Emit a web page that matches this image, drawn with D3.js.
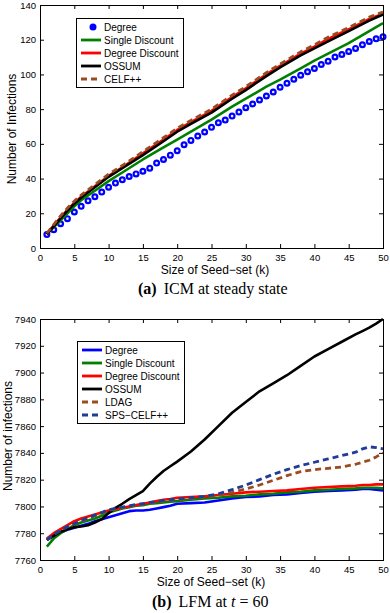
<!DOCTYPE html>
<html lang="en">
  <head>
    <meta charset="utf-8">
    <style>
    body { margin: 0; background: #fff; }
    svg text { font-family: "Liberation Sans", Arial, sans-serif; fill: #000; }
    svg text.cap { font-family: "Liberation Serif", "Times New Roman", serif; }
    </style>
  </head>
  <body>
  <div id="my_dataviz"></div>

  <script src="https://d3js.org/d3.v7.min.js"></script>
  <script>

// ---------- data: (a) ICM at steady state ----------
var icmDotK = [1,2,3,4,5,6,7,8,9,10,11,12,13,14,15,16,17,18,19,20,21,22,23,24,25,
               26,27,28,29,30,31,32,33,34,35,36,37,38,39,40,41,42,43,44,45,46,47,48,49,50]
var icmDegree = [7.8,10.5,14,16.9,20.7,24,27.2,29.5,32.2,35,37.4,39.3,41.2,42.7,44.2,46,48.9,51,53.5,56,
                 59.5,62,64.5,66.8,69.5,72.2,73.7,76,78.3,80.8,83,85.3,87.6,89.9,92.6,94.9,97.2,99.5,101.5,103.4,
                 105.7,107.6,110,111.5,113.2,115,117.1,119,120.5,121.7]

var icmK              = [1,2,3,4,5,6,8,10,12,15,18,20,22,25,28,30,33,35,38,40,42,45,48,50]
var icmSingleDiscount = [8,12,16,20,24,27.5,33,38.5,43.5,51,58,62.5,67,74,81.5,86,93,97,103.5,108,112,118,125,129.5]
var icmDegreeDiscount = [8,13,17.5,22,26,29.5,35.5,41.5,46.5,54.5,62.5,68,72.5,79,87,92,100,105,112,116,120.5,126,132,135]
var icmOssum          = [8,12.5,17,21.5,25.5,29,35,41,46,53.5,61.5,67,71.5,78,86,91,99,104,111,115,119,125,131,134.5]
var icmCelf           = [8.5,13.5,18.5,23,27,30.5,36.5,42.5,47.5,55.5,63.5,69,73.5,80,88,93,101,106,113,117,121.5,127,133,136]

// ---------- data: (b) LFM at t = 60 ----------
var lfmK = [1,2,3,4,5,6,7,8,9,10,11,12,13,14,15,16,17,18,19,20,22,24,26,28,30,32,34,36,38,40,42,44,46,47,48,49,50]
var lfmDegree = [7775,7778,7780.5,7782.5,7784,7785.5,7787,7789,7790.5,7792,7793.5,7795,7796.5,7797,7797,7797.5,7798.5,7799.5,7800.5,7802,
                 7802.5,7803,7804.5,7806,7807,7807.5,7808.5,7809,7810,7811,7811.5,7812,7812.5,7813,7813,7812.5,7812]
var lfmSingleDiscount = [7770,7776,7780,7783,7786,7788,7789.5,7791,7793,7795.5,7797,7798.5,7799.5,7800.5,7801,7802,7802.5,7803,7803.5,7804,
                 7805,7806,7806.5,7807.5,7808,7809,7809.5,7810.5,7811,7812,7812.5,7813,7813.5,7814,7814,7814,7813.5]
var lfmDegreeDiscount = [7776,7780,7783,7786,7789,7791,7792.5,7794,7795.5,7797,7798,7799,7800,7801,7802,7803,7804,7805,7805.5,7806.5,
                 7807,7807.5,7808.5,7809.5,7810.5,7811,7811.5,7812,7813,7814,7814.5,7815,7815.5,7816,7816,7816.5,7816.5]
var lfmOssum = [7775,7778,7781,7783,7784.5,7785,7786,7788,7790.5,7795,7799,7802,7805.5,7808.5,7811.5,7817,7822,7826.5,7830,7833.5,
                 7841,7850,7860,7870,7878,7886,7892,7898,7905,7912,7917.5,7923,7928.5,7931,7933.5,7936.5,7940]
var lfmLdag = [7775,7779,7782,7785,7787,7789,7791,7793,7795,7797,7798,7799,7800,7801,7801.5,7802.5,7803,7804,7804.5,7805,
                 7806,7807,7808.5,7810.5,7813,7816,7819.5,7823,7826,7827.5,7828.5,7829.5,7831.5,7833,7834.5,7837,7840]
var lfmSpsCelf = [7775,7779,7782,7785,7787,7789.5,7791.5,7793.5,7795.5,7797.5,7798.5,7799.5,7800.5,7801.5,7802,7803,7803.5,7804.5,7805,7805.5,
                 7806.5,7807.5,7809.5,7812.5,7816,7820,7824,7827.5,7830.5,7833,7835.5,7838,7840.5,7843,7844.5,7844,7843]

var xTicks = [0,5,10,15,20,25,30,35,40,45,50]
var icmYTicks = [0,20,40,60,80,100,120,140]
var lfmYTicks = [7760,7780,7800,7820,7840,7860,7880,7900,7920,7940]

var BLUE = "#0000ff", GREEN = "#008000", RED = "#ff0000", BLACK = "#000000",
    BROWN = "#9c4a1f", NAVY = "#203c96"

var svg = d3.select("#my_dataviz")
  .append("svg")
    .attr("width", 390)
    .attr("height", 613)

// draws one panel: box, ticks on all sides, labels, lines and legend
function drawPanel(p) {
  var x = d3.scaleLinear().domain([0, 50]).range([40, 383])
  var y = d3.scaleLinear().domain([p.yTicks[0], p.yTicks[p.yTicks.length - 1]]).range([p.bottom, p.top])
  var g = svg.append("g")

  g.append("g")
    .attr("transform", "translate(0," + p.bottom + ")")
    .call(d3.axisBottom(x).tickValues(xTicks).tickSize(-4).tickPadding(6).tickFormat(d3.format("d")))
  g.append("g")
    .attr("transform", "translate(0," + p.top + ")")
    .call(d3.axisTop(x).tickValues(xTicks).tickSize(-4).tickFormat(""))
  g.append("g")
    .attr("transform", "translate(40,0)")
    .call(d3.axisLeft(y).tickValues(p.yTicks).tickSize(-4).tickPadding(4).tickFormat(d3.format("d")))
  g.append("g")
    .attr("transform", "translate(383,0)")
    .call(d3.axisRight(y).tickValues(p.yTicks).tickSize(-4).tickFormat(""))
  g.selectAll(".domain").remove()
  g.selectAll(".tick line").attr("stroke", "#000")
  g.selectAll(".tick text").attr("font-size", "9.5px").attr("font-family", null)

  // the lines
  var line = d3.line()
    .x(function(d) { return x(d[0]) })
    .y(function(d) { return y(d[1]) })

  p.series.forEach(function(s) {
    if (s.dots) {
      g.selectAll(null)
        .data(d3.zip(s.k, s.v))
        .enter()
        .append("circle")
          .attr("cx", function(d) { return x(d[0]) })
          .attr("cy", function(d) { return y(d[1]) })
          .attr("r", 2.4)
          .attr("fill", "#e6eaff")
          .attr("stroke", s.color)
          .attr("stroke-width", 2.2)
    } else {
      g.append("path")
        .datum(d3.zip(s.k, s.v))
        .attr("d", line)
        .attr("fill", "none")
        .attr("stroke", s.color)
        .attr("stroke-width", s.dash ? 2.8 : 2.6)
        .attr("stroke-dasharray", s.dash ? "6,4" : null)
        .attr("stroke-linejoin", "round")
    }
  })

  // box
  g.append("rect")
    .attr("x", 40.5).attr("y", p.top + 0.5)
    .attr("width", 343).attr("height", p.bottom - p.top)
    .attr("fill", "none").attr("stroke", "#000")

  // axis labels
  g.append("text")
    .attr("x", p.xLabelX).attr("y", p.bottom + 26)
    .attr("text-anchor", "middle").attr("font-size", "12px")
    .text("Size of Seed\u2212set (k)")
  g.append("text")
    .attr("transform", "translate(" + p.yLabelX + "," + p.yLabelY + ") rotate(-90)")
    .attr("text-anchor", "middle").attr("font-size", "12px").attr("dy", "0.35em")
    .text(p.yLabel)

  // legend
  var lg = g.append("g")
  lg.append("rect")
    .attr("x", p.legend.x + 0.5).attr("y", p.legend.y + 0.5)
    .attr("width", 107).attr("height", p.series.length * 13 + 4)
    .attr("fill", "#fff").attr("stroke", "#000")
  p.series.forEach(function(s, i) {
    var cy = p.legend.y + 9 + i * 13
    var x0 = p.legend.x + 5, x1 = p.legend.x + 25
    if (s.dots) {
      lg.append("circle").attr("cx", (x0 + x1) / 2 + 2).attr("cy", cy).attr("r", 3.5).attr("fill", s.color)
    } else {
      lg.append("line")
        .attr("x1", x0).attr("x2", x1).attr("y1", cy).attr("y2", cy)
        .attr("stroke", s.color).attr("stroke-width", 2.8)
        .attr("stroke-dasharray", s.dash ? "6,4" : null)
    }
    lg.append("text")
      .attr("x", x1 + 3).attr("y", cy + 3.6)
      .attr("font-size", "10px")
      .text(s.name)
  })
}

drawPanel({
  top: 5, bottom: 248, yTicks: icmYTicks,
  yLabel: "Number of Infections", yLabelX: 12, yLabelY: 129, xLabelX: 215,
  legend: {x: 76, y: 18},
  series: [
    {name: "Degree", k: icmDotK, v: icmDegree, color: BLUE, dots: true},
    {name: "Single Discount", k: icmK, v: icmSingleDiscount, color: GREEN},
    {name: "Degree Discount", k: icmK, v: icmDegreeDiscount, color: RED},
    {name: "OSSUM", k: icmK, v: icmOssum, color: BLACK},
    {name: "CELF++", k: icmK, v: icmCelf, color: BROWN, dash: true}
  ]
})

drawPanel({
  top: 319, bottom: 560, yTicks: lfmYTicks,
  yLabel: "Number of infections", yLabelX: 7.5, yLabelY: 436, xLabelX: 211,
  legend: {x: 77, y: 341},
  series: [
    {name: "Degree", k: lfmK, v: lfmDegree, color: BLUE},
    {name: "Single Discount", k: lfmK, v: lfmSingleDiscount, color: GREEN},
    {name: "Degree Discount", k: lfmK, v: lfmDegreeDiscount, color: RED},
    {name: "OSSUM", k: lfmK, v: lfmOssum, color: BLACK},
    {name: "LDAG", k: lfmK, v: lfmLdag, color: BROWN, dash: true},
    {name: "SPS\u2212CELF++", k: lfmK, v: lfmSpsCelf, color: NAVY, dash: true}
  ]
})

// captions
var capA = svg.append("text").attr("class", "cap").attr("x", 138).attr("y", 294).attr("font-size", "16px")
capA.append("tspan").attr("font-weight", "bold").text("(a)")
capA.append("tspan").attr("dx", 7).text("ICM at steady state")

var capB = svg.append("text").attr("class", "cap").attr("x", 152).attr("y", 607).attr("font-size", "16px")
capB.append("tspan").attr("font-weight", "bold").text("(b)")
capB.append("tspan").attr("dx", 7).text("LFM at ")
capB.append("tspan").attr("font-style", "italic").text("t")
capB.append("tspan").text(" = 60")

</script>
</body>
</html>
